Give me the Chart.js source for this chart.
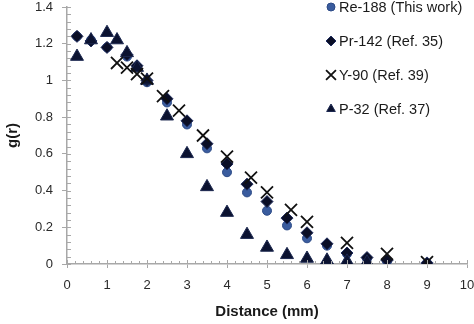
<!DOCTYPE html>
<html>
<head>
<meta charset="utf-8">
<script src="https://cdn.jsdelivr.net/npm/chart.js@4"></script>
<style>
  html, body { margin: 0; padding: 0; background: #fff; }
  #wrap { width: 474px; height: 324px; }
</style>
</head>
<body>
<div id="wrap"><canvas id="grChart"></canvas></div>
<script>
/* -------------------------
   Radial dose function g(r)
   Re-188 vs Pr-142, Y-90, P-32
------------------------- */
const reX = [0.25, 0.6, 1.0, 1.5, 1.75, 2.0, 2.5, 3.0, 3.5, 4.0, 4.5, 5.0, 5.5, 6.0, 6.5, 7.0, 7.5, 8.0, 9.0];
const reY = [1.24, 1.22, 1.18, 1.13, 1.07, 0.99, 0.88, 0.76, 0.63, 0.50, 0.39, 0.29, 0.21, 0.14, 0.10, 0.055, 0.03, 0.015, 0.005];

const prX = [0.25, 0.6, 1.0, 1.5, 1.75, 2.0, 2.5, 3.0, 3.5, 4.0, 4.5, 5.0, 5.5, 6.0, 6.5, 7.0, 7.5, 8.0, 9.0];
const prY = [1.24, 1.215, 1.18, 1.14, 1.08, 1.0, 0.90, 0.78, 0.655, 0.545, 0.435, 0.34, 0.25, 0.17, 0.11, 0.06, 0.035, 0.02, 0.006];

const yX = [1.25, 1.5, 1.75, 2.0, 2.4, 2.8, 3.4, 4.0, 4.6, 5.0, 5.6, 6.0, 7.0, 8.0, 9.0];
const yY = [1.095, 1.07, 1.035, 1.01, 0.915, 0.835, 0.70, 0.585, 0.47, 0.39, 0.295, 0.23, 0.115, 0.055, 0.01];

const pX = [0.25, 0.6, 1.0, 1.25, 1.5, 1.75, 2.0, 2.5, 3.0, 3.5, 4.0, 4.5, 5.0, 5.5, 6.0, 6.5, 7.0, 7.5];
const pY = [1.13, 1.22, 1.26, 1.22, 1.15, 1.07, 1.0, 0.805, 0.60, 0.42, 0.28, 0.16, 0.09, 0.05, 0.03, 0.02, 0.015, 0.01];

const seriesLabels = ['Re-188 (This work)', 'Pr-142 (Ref. 35)', 'Y-90 (Ref. 39)', 'P-32 (Ref. 37)'];

const toPoints = (xs, ys) => xs.map((x, i) => ({ x: x, y: ys[i] }));

const AXIS_GREY = '#a8a8a8';
const FONT = 'Liberation Sans, Arial, sans-serif';

// minor ticks + inner half of major ticks
const minorTicks = {
  id: 'minorTicks',
  afterDraw(chart) {
    const c = chart.ctx, xs = chart.scales.x, ys = chart.scales.y;
    c.save();
    c.strokeStyle = AXIS_GREY;
    c.lineWidth = 1;
    c.beginPath();
    for (let v = 0; v <= 10.001; v += 0.2) {
      const px = Math.round(xs.getPixelForValue(v)) + 0.5;
      const major = Math.abs(v - Math.round(v)) < 0.01;
      c.moveTo(px, xs.top);
      c.lineTo(px, xs.top - (major ? 4 : 3));
    }
    for (let v = 0; v <= 1.4001; v += 0.04) {
      const py = Math.round(ys.getPixelForValue(v)) + 0.5;
      c.moveTo(ys.right, py);
      c.lineTo(ys.right + 4, py);
    }
    c.stroke();
    c.restore();
  }
};

// legend sitting in the upper right of the plot
const cornerLegend = {
  id: 'cornerLegend',
  afterDraw(chart) {
    const c = chart.ctx;
    const textX = 339;
    c.save();
    c.font = '14.5px ' + FONT;
    c.textBaseline = 'middle';
    chart.data.datasets.forEach((ds, i) => {
      const y = 7 + i * 34;
      c.fillStyle = ds.backgroundColor;
      c.strokeStyle = ds.borderColor;
      c.lineWidth = ds.borderWidth;
      Chart.helpers.drawPoint(c, {
        pointStyle: ds.pointStyle,
        radius: ds.legendRadius,
        borderWidth: ds.borderWidth,
        rotation: 0
      }, 331, y);
      c.fillStyle = '#1a1a1a';
      c.fillText(ds.label, textX, y + 1, chart.width - textX - 3);
    });
    c.restore();
  }
};

const ctx = document.getElementById('grChart').getContext('2d');
new Chart(ctx, {
  type: 'scatter',
  data: {
    datasets: [
      {
        label: seriesLabels[0],
        data: toPoints(reX, reY),
        pointStyle: 'circle',
        pointRadius: 4.5,
        legendRadius: 4,
        backgroundColor: '#3a5c9e',
        borderColor: '#2c4a86',
        borderWidth: 1,
        order: 4
      },
      {
        label: seriesLabels[1],
        data: toPoints(prX, prY),
        pointStyle: 'rectRot',
        pointRadius: 6,
        legendRadius: 5,
        backgroundColor: '#0a0e26',
        borderColor: '#1e2b5c',
        borderWidth: 1,
        order: 3
      },
      {
        label: seriesLabels[2],
        data: toPoints(yX, yY),
        pointStyle: 'crossRot',
        pointRadius: 8.5,
        legendRadius: 7,
        backgroundColor: '#111111',
        borderColor: '#111111',
        borderWidth: 1.8,
        order: 1
      },
      {
        label: seriesLabels[3],
        data: toPoints(pX, pY),
        pointStyle: 'triangle',
        pointRadius: 7.5,
        legendRadius: 5,
        backgroundColor: '#0b1230',
        borderColor: '#1c2850',
        borderWidth: 1,
        order: 2
      }
    ]
  },
  options: {
    responsive: true,
    maintainAspectRatio: false,
    animation: false,
    layout: { padding: 0, autoPadding: false },
    scales: {
      x: {
        type: 'linear',
        min: 0,
        max: 10,
        afterFit: s => { s.height = 60; s.paddingLeft = 0; s.paddingRight = 7; },
        ticks: {
          stepSize: 1,
          padding: 10,
          color: '#2a2a2a',
          font: { family: FONT, size: 13 }
        },
        grid: { drawOnChartArea: false, color: AXIS_GREY, tickLength: 4 },
        border: { color: AXIS_GREY, width: 1.5 },
        title: {
          display: true,
          text: 'Distance (mm)',
          color: '#1a1a1a',
          font: { family: FONT, size: 15, weight: 'bold' },
          padding: { top: 0, bottom: 3 }
        }
      },
      y: {
        min: 0,
        max: 1.4,
        afterFit: s => { s.width = 67; s.paddingTop = 7; s.paddingBottom = 0; },
        ticks: {
          stepSize: 0.2,
          padding: 9,
          color: '#2a2a2a',
          font: { family: FONT, size: 13 },
          callback: v => String(+v.toFixed(1))
        },
        grid: { drawOnChartArea: false, color: AXIS_GREY, tickLength: 5 },
        border: { color: AXIS_GREY, width: 1.5 },
        title: {
          display: true,
          text: 'g(r)',
          color: '#1a1a1a',
          font: { family: FONT, size: 15, weight: 'bold' },
          padding: { top: 4, bottom: 0 }
        }
      }
    },
    plugins: {
      legend: { display: false },
      tooltip: { enabled: false }
    }
  },
  plugins: [minorTicks, cornerLegend]
});
</script>
</body>
</html>
